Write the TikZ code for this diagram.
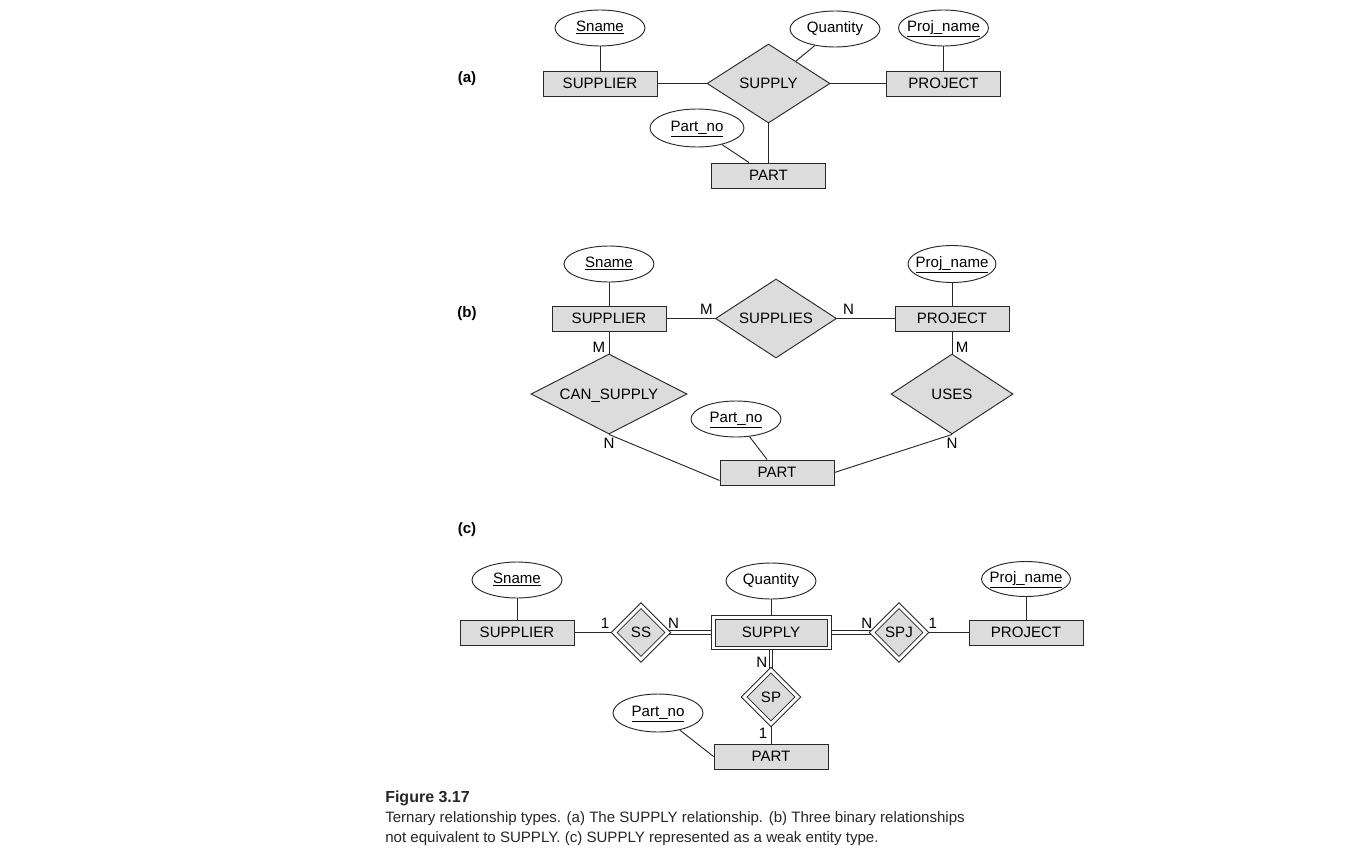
\documentclass[tikz,border=0pt]{standalone}
\usepackage{fontspec}
\setmainfont{Liberation Sans}
\usetikzlibrary{shapes.geometric, backgrounds}
\newlength{\px}
\setlength{\px}{0.75pt}
\definecolor{erfill}{RGB}{220,220,220}
\definecolor{erline}{RGB}{40,40,40}
\newcommand{\erfont}{\fontsize{11.3}{15}\selectfont}
\newcommand{\attrtext}[1]{\makebox[0pt]{\raisebox{-.2em}[0pt][0pt]{#1}}}
\newcommand{\reltext}[1]{\makebox[0pt]{\raisebox{-.36em}[0pt][0pt]{#1}}}
\tikzset{entity/.style = {shape=rectangle,draw=erline,fill=erfill,line width=0.7pt,minimum width=114\px,minimum height=25\px,inner sep=0pt,font=\erfont}}
\tikzset{weakentity/.style = {shape=rectangle,draw=erline,fill=white,line width=0.7pt,minimum width=120\px,minimum height=34\px,inner sep=0pt}}
\tikzset{attr/.style = {shape=ellipse,draw=erline,fill=white,line width=0.7pt,minimum width=90\px,minimum height=36\px,inner sep=0pt,font=\erfont}}
\tikzset{rel/.style = {shape=diamond,draw=erline,fill=erfill,line width=0.7pt,inner sep=0pt,font=\erfont}}
\tikzset{weakrel/.style = {rel,double=white,double distance=2.3pt,minimum width=54\px,minimum height=54\px}}
\tikzset{edge/.style = {draw=erline,line width=0.7pt}}
\tikzset{dedge/.style = {edge,double=white,double distance=2.2pt}}
\tikzset{card/.style = {inner sep=2.5pt,font=\erfont}}
\tikzset{lbl/.style = {inner sep=0pt,font=\erfont\bfseries}}

\begin{document}
\begin{tikzpicture}[x=0.75pt,y=-0.75pt]
\useasboundingbox (0,0) rectangle (1370,856);
% (a)
\node[lbl] (labA) at (467,79) {(a)};
\node[entity] (supplierA) at (600,83.5) {SUPPLIER};
\node[attr] (snameA) at (600,28) {\attrtext{\underline{Sname}}};
\node[rel,minimum width=123\px,minimum height=79\px] (supplyA) at (768.5,83.5) {\reltext{SUPPLY}};
\node[attr] (quantityA) at (835,29) {\attrtext{Quantity}};
\node[entity] (projectA) at (943.5,83.5) {PROJECT};
\node[attr] (projnameA) at (943.5,28) {\attrtext{\underline{Proj\_name}}};
\node[attr,minimum width=94\px,minimum height=38\px] (partnoA) at (697,128) {\attrtext{\underline{Part\_no}}};
\node[entity] (partA) at (768.5,175.5) {PART};
% (b)
\node[lbl] (labB) at (467,314) {(b)};
\node[entity] (supplierB) at (609,318.5) {SUPPLIER};
\node[attr] (snameB) at (609,264) {\attrtext{\underline{Sname}}};
\node[rel,minimum width=121\px,minimum height=79\px] (supplies) at (776,318.5) {\reltext{SUPPLIES}};
\node[entity] (projectB) at (952,318.5) {PROJECT};
\node[attr,minimum width=88\px,minimum height=37\px] (projnameB) at (952,264) {\attrtext{\underline{Proj\_name}}};
\node[rel,minimum width=156\px,minimum height=80\px] (cansupply) at (609,394) {\reltext{CAN\_SUPPLY}};
\node[rel,minimum width=122\px,minimum height=80\px] (uses) at (952,394) {\reltext{USES}};
\node[attr] (partnoB) at (736,419) {\attrtext{\underline{Part\_no}}};
\node[entity] (partB) at (777,472.5) {PART};
% (c)
\node[lbl] (labC) at (467,530) {(c)};
\node[entity] (supplierC) at (517,632.5) {SUPPLIER};
\node[attr] (snameC) at (517,580) {\attrtext{\underline{Sname}}};
\node[weakrel] (ss) at (641,632.5) {\reltext{SS}};
\node[weakentity] (supplyC) at (771,632.5) {};
\node[entity,minimum width=112\px,minimum height=27\px] (supplyCin) at (771,632.5) {SUPPLY};
\node[attr] (quantityC) at (771,581) {\attrtext{Quantity}};
\node[weakrel] (spj) at (899,632.5) {\reltext{SPJ}};
\node[entity] (projectC) at (1026,632.5) {PROJECT};
\node[attr,minimum width=89\px,minimum height=35\px] (projnameC) at (1026,579) {\attrtext{\underline{Proj\_name}}};
\node[weakrel] (sp) at (771,697) {\reltext{SP}};
\node[attr,minimum height=38\px] (partnoC) at (658,713) {\attrtext{\underline{Part\_no}}};
\node[entity] (partC) at (771,756.5) {PART};
% caption
\node[anchor=north west,align=left,inner sep=0pt,font=\erfont,text=black!85] (caption) at (385,791)
  {{\fontsize{12}{15}\selectfont\bfseries Figure 3.17}\\
   Ternary relationship types. (a) The SUPPLY relationship. (b) Three binary relationships\\
   not equivalent to SUPPLY. (c) SUPPLY represented as a weak entity type.};

\begin{scope}[on background layer]
% (a)
\draw[edge] (snameA) -- (supplierA);
\draw[edge] (supplierA) -- (supplyA);
\draw[edge] (supplyA) -- (projectA);
\draw[edge] (projnameA) -- (projectA);
\draw[edge] (quantityA) -- (supplyA);
\draw[edge] (supplyA) -- (partA);
\draw[edge] (partnoA) -- (partA);
% (b)
\draw[edge] (snameB) -- (supplierB);
\draw[edge] (supplierB) -- (supplies) node[card,pos=0.82,anchor=south] {M};
\draw[edge] (supplies) -- (projectB) node[card,pos=0.2,anchor=south] {N};
\draw[edge] (projnameB) -- (projectB);
\draw[edge] (supplierB) -- (cansupply) node[card,pos=0.7,anchor=east] {M};
\draw[edge] (projectB) -- (uses) node[card,pos=0.7,anchor=west] {M};
\draw[edge] (cansupply.south) -- ([yshift=5\px]partB.south west) node[card,pos=0,anchor=north] {N};
\draw[edge] (uses.south) -- (partB.east) node[card,pos=0,anchor=north] {N};
\draw[edge] (partnoB) -- (partB);
% (c)
\draw[edge] (snameC) -- (supplierC);
\draw[edge] (supplierC) -- (ss) node[card,pos=0.78,anchor=south] {1};
\draw[dedge] (ss) -- (supplyC) node[card,pos=0.12,anchor=south] {N};
\draw[dedge] (supplyC) -- (spj) node[card,pos=0.88,anchor=south] {N};
\draw[edge] (spj) -- (projectC) node[card,pos=0.15,anchor=south] {1};
\draw[edge] (projnameC) -- (projectC);
\draw[edge] (quantityC) -- (supplyC);
\draw[dedge] (supplyC) -- (sp) node[card,pos=0.65,anchor=east] {N};
\draw[edge] (sp) -- (partC) node[card,pos=0.45,anchor=east] {1};
\draw[edge] (partnoC) -- (partC.west);
\end{scope}
\end{tikzpicture}
\end{document}
